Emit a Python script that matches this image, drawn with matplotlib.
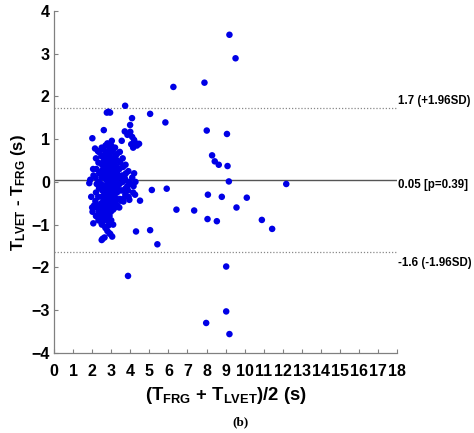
import matplotlib
matplotlib.use('Agg')
import matplotlib.pyplot as plt

plt.rcParams['font.family'] = 'Liberation Sans'
plt.rcParams['mathtext.fontset'] = 'custom'
plt.rcParams['mathtext.rm'] = 'Liberation Sans:bold'
plt.rcParams['mathtext.bf'] = 'Liberation Sans:bold'
plt.rcParams['mathtext.default'] = 'bf'

# mean of the two methods (s) and their difference (s)
mean_x = [
    # dense cluster
    2.2, 2.22, 2.18, 2.24, 2.2, 2.17, 2.23, 2.2,
    2.35, 2.33, 2.37, 2.34, 2.36, 2.32, 2.38, 2.35, 2.33,
    2.5, 2.48, 2.52, 2.49, 2.51, 2.47, 2.53, 2.5, 2.48, 2.52, 2.49, 2.51,
    2.6, 2.62, 2.58, 2.61, 2.59, 2.63, 2.6, 2.57, 2.62, 2.6,
    2.7, 2.68, 2.72, 2.71, 2.69, 2.73, 2.7, 2.67, 2.72, 2.7, 2.68, 2.71, 2.69,
    2.8, 2.82, 2.78, 2.81, 2.79, 2.83, 2.8, 2.77, 2.82, 2.8, 2.78, 2.81, 2.79,
    2.9, 2.92, 2.88, 2.91, 2.89, 2.93, 2.9, 2.87, 2.92, 2.9, 2.88, 2.91,
    3.0, 3.02, 2.98, 3.01, 2.99, 3.03, 3.0, 2.97, 3.02, 3.0, 2.98,
    3.1, 3.12, 3.08, 3.11, 3.09, 3.13, 3.1, 3.07, 3.12, 3.1,
    3.2, 3.22, 3.18, 3.21, 3.19, 3.23, 3.2, 3.17, 3.22, 3.2,
    3.3, 3.32, 3.28, 3.31, 3.29, 3.33, 3.3, 3.27, 3.32,
    3.45, 3.47, 3.43, 3.46, 3.44, 3.48, 3.45, 3.42,
    3.6, 3.62, 3.58, 3.61, 3.59, 3.63,
    3.75, 3.77, 3.73, 3.76, 3.74,
    3.9, 3.92, 3.88, 3.91,
    # cluster edges
    2.77, 2.85, 2.94, 2.61, 3.03, 2.01, 3.71, 3.73, 3.99, 4.09,
    4.0, 4.1, 4.2, 4.3, 4.05, 4.15, 4.35, 4.46, 3.55, 3.85,
    1.85, 1.9, 2.05, 2.07, 2.0, 2.02, 1.95, 2.1, 2.15, 2.3,
    4.27, 4.17, 4.15, 3.64, 4.51, 4.2, 4.05, 3.7, 3.85, 4.1, 4.25, 3.5, 3.95,
    2.06, 2.5, 2.7, 2.85, 3.1, 2.9, 2.95, 2.5, 2.55, 4.3, 3.88,
    2.65, 3.0, 2.8, 3.05, 2.65,
    # sparse points
    9.2, 9.52, 6.26, 7.89, 5.04, 5.84, 8.01, 9.07, 8.29, 8.43, 8.64, 9.10,
    9.17, 12.18, 5.13, 5.91, 8.07, 8.80, 10.11, 6.42, 7.35, 9.57, 8.05,
    8.54, 10.9, 11.44, 5.04, 5.42, 9.03, 9.03, 7.98, 9.2,
]
diff_y = [
    0.55, 0.3, 0.1, -0.05, -0.25, -0.45, -0.6, -0.8,
    0.7, 0.45, 0.2, 0.0, -0.15, -0.35, -0.55, -0.7, -0.9,
    0.8, 0.6, 0.4, 0.25, 0.1, -0.05, -0.2, -0.35, -0.5, -0.65, -0.8, -1.0,
    0.75, 0.5, 0.3, 0.15, -0.1, -0.3, -0.45, -0.6, -0.75, -0.9,
    0.85, 0.65, 0.45, 0.3, 0.2, 0.05, -0.1, -0.25, -0.4, -0.55, -0.7, -0.85, -1.05,
    0.9, 0.7, 0.55, 0.4, 0.25, 0.1, 0.0, -0.15, -0.3, -0.45, -0.6, -0.75, -0.9,
    0.8, 0.6, 0.45, 0.3, 0.15, 0.05, -0.05, -0.2, -0.35, -0.5, -0.65, -0.8,
    0.85, 0.7, 0.5, 0.35, 0.2, 0.05, -0.1, -0.25, -0.4, -0.55, -0.7,
    0.75, 0.55, 0.4, 0.25, 0.1, -0.05, -0.2, -0.35, -0.5, -0.65,
    0.8, 0.6, 0.45, 0.3, 0.15, 0.0, -0.15, -0.3, -0.45, -0.6,
    0.65, 0.5, 0.35, 0.2, 0.05, -0.1, -0.25, -0.4, -0.55,
    0.7, 0.45, 0.3, 0.1, -0.05, -0.2, -0.4, -0.6,
    0.55, 0.35, 0.15, 0.0, -0.2, -0.4,
    0.4, 0.2, 0.05, -0.15, -0.3,
    0.25, 0.0, -0.2, -0.35,
    1.62, 1.64, 1.62, 1.21, 0.96, 1.02, 1.18, 1.78, 1.33, 1.49,
    1.17, 1.05, 0.98, 0.9, 0.88, 0.8, 0.85, 0.89, 0.96, 1.1,
    -0.03, 0.05, 0.3, 0.15, -0.6, -0.7, -0.35, -0.55, 0.78, 0.72,
    0.0, -0.1, -0.25, -0.46, -0.44, 0.2, -0.05, 0.1, -0.1, 0.1, -0.3, -0.44, -0.42,
    -0.97, -0.97, -1.08, -1.02, -1.0, -1.2, -1.22, -1.36, -1.33, -1.16, -2.2,
    -0.87, -0.9, -1.15, -1.28, -1.3,
    3.44, 2.89, 2.22, 2.32, 1.59, 1.39, 1.20, 1.12, 0.62, 0.48, 0.40, 0.37,
    0.01, -0.05, -0.19, -0.16, -0.30, -0.35, -0.37, -0.65, -0.67, -0.60, -0.87,
    -0.92, -0.89, -1.10, -1.13, -1.46, -1.98, -3.03, -3.30, -3.56,
]

mean_diff = 0.05
upper_loa = 1.72
lower_loa = -1.65

fig = plt.figure(figsize=(4.74, 4.33), dpi=100)
ax = fig.add_axes([0.114, 0.185, 0.724, 0.79])

ax.scatter(mean_x, diff_y, s=22, color='#0000e6', edgecolors='none', zorder=3)
ax.axhline(mean_diff, color='#555555', linewidth=1.0, zorder=2)
ax.axhline(upper_loa, color='#888888', linewidth=0.9, linestyle=(0, (1, 1.5)), zorder=2)
ax.axhline(lower_loa, color='#888888', linewidth=0.9, linestyle=(0, (1, 1.5)), zorder=2)

ax.text(18.02, upper_loa + 0.03, '1.7 (+1.96SD)', fontsize=8.3, fontweight='bold', va='bottom', ha='left', clip_on=False)
ax.text(18.02, mean_diff + 0.02, '0.05 [p=0.39]', fontsize=8.3, fontweight='bold', va='top', ha='left', clip_on=False)
ax.text(18.02, lower_loa - 0.1, '-1.6 (-1.96SD)', fontsize=8.3, fontweight='bold', va='top', ha='left', clip_on=False)

ax.set_xlim(0, 18)
ax.set_ylim(-4, 4)
ax.set_xticks(range(0, 19))
ax.set_yticks(range(-4, 5))
ax.tick_params(direction='in', length=3, width=0.8, color='#808080', labelsize=11.5)
ax.tick_params(axis='x', pad=8)
ax.tick_params(axis='y', pad=3)
for lab in ax.get_xticklabels() + ax.get_yticklabels():
    lab.set_fontweight('bold')

for side in ['top', 'right']:
    ax.spines[side].set_visible(False)
for side in ['left', 'bottom']:
    ax.spines[side].set_color('#808080')
    ax.spines[side].set_linewidth(0.9)

ax.set_ylabel(r'$T_{LVET}$ - $T_{FRG}$ (s)', fontsize=12, fontweight='bold', labelpad=3)
ax.yaxis.set_label_coords(-0.075, 0.47)
ax.set_xlabel(r'($T_{FRG}$ + $T_{LVET}$)/2 (s)', fontsize=13.3, fontweight='bold', labelpad=4)

fig.text(0.508, 0.025, '(b)', fontsize=9.5, fontweight='bold', family='Liberation Serif', ha='center', va='center')

fig.savefig('out.png', dpi=100)
